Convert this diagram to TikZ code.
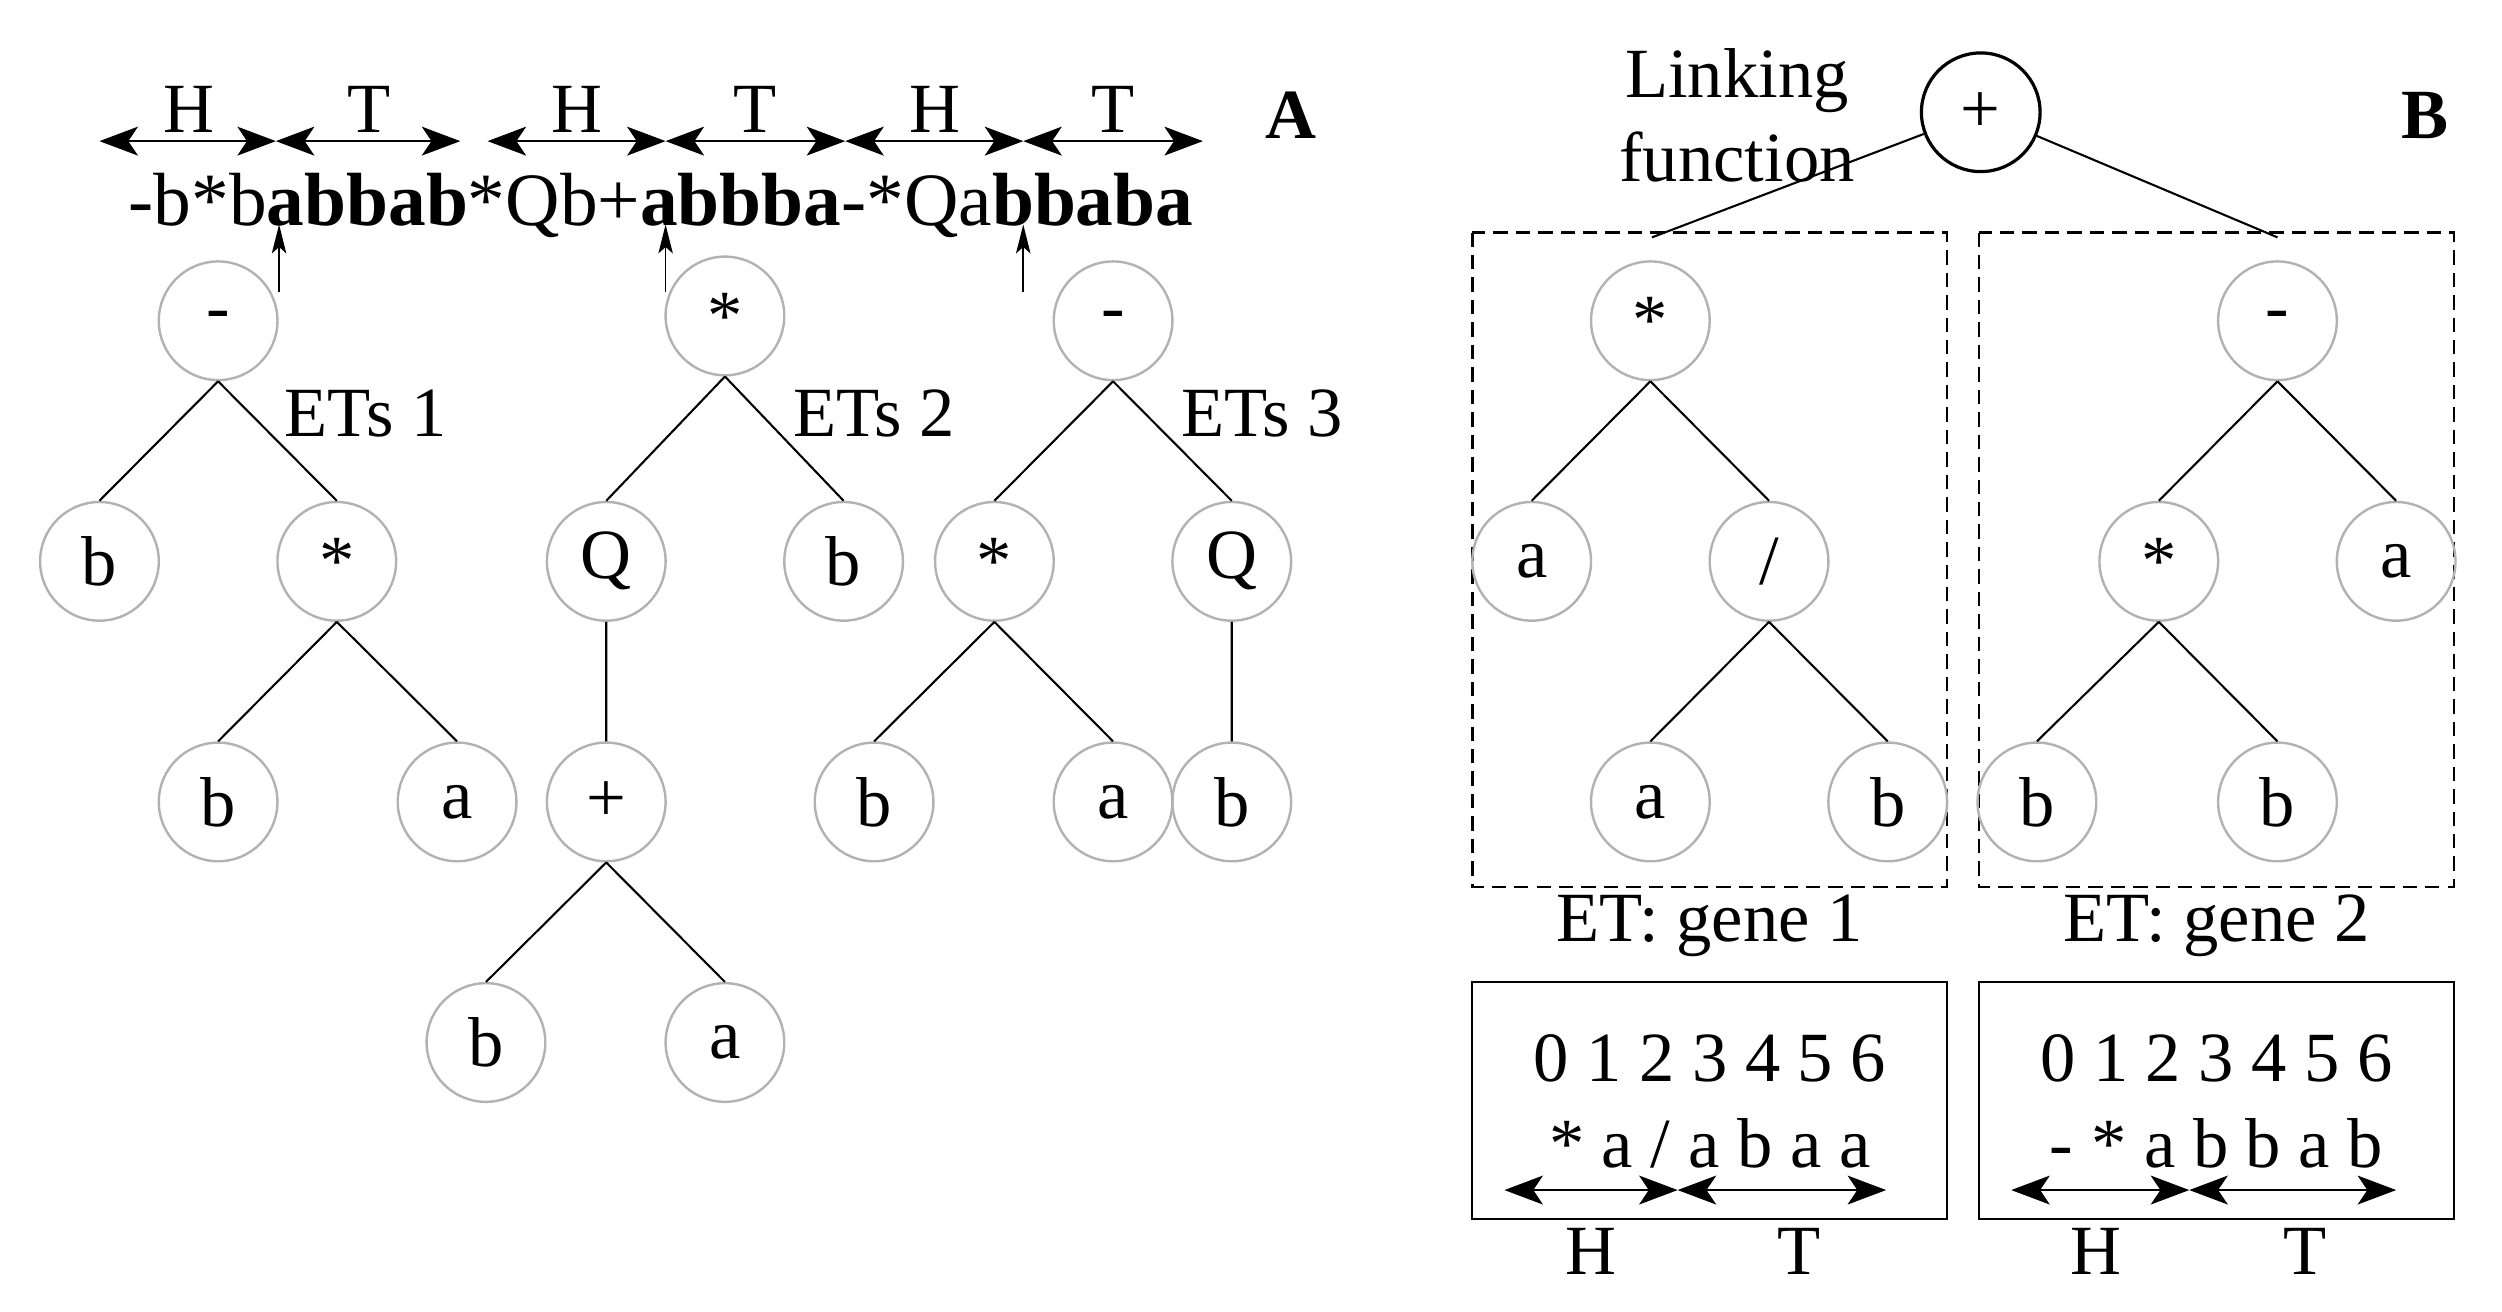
\documentclass[tikz,border=0pt]{standalone}
\usepackage{fontspec}
\setmainfont{Liberation Serif}
\usetikzlibrary{arrows.meta}
\begin{document}
\begin{tikzpicture}[x=1pt,y=-1pt,
 every node/.style={font=\fontsize{44}{50}\selectfont},
 nd/.style={circle,draw=gray!60,line width=1.5pt,minimum size=74pt,inner sep=0pt},
 ed/.style={line width=1.3pt},
 ht/.style={line width=1.3pt,{Stealth[length=24pt,width=18pt,inset=6pt]}-{Stealth[length=24pt,width=18pt,inset=6pt]}},
 up/.style={line width=1pt,-{Stealth[length=18pt,width=9pt,inset=4pt]}},
 dbox/.style={line width=1.5pt,dash pattern=on 9pt off 5pt},
 lbl/.style={inner sep=0pt}]
\useasboundingbox (0,0) rectangle (1560,818);
% Panel A header
\foreach \a/\b/\l/\m [count=\i] in {62/172/118/H,172/287/230/T,304/415/360/H,415/527/471/T,527/638/583/H,638/750/694/T}{
 \coordinate (s\i) at (\a,88); \coordinate (e\i) at (\b,88);
 \draw[ht] (s\i) -- (e\i);
 \node[lbl] (hl\i) at (\l,68) {\m};}
\node[lbl,font=\fontsize{44}{50}\bfseries] (A) at (805,72) {A};
\node[lbl,anchor=west,font=\fontsize{47}{50}\selectfont] (str) at (80,128) {-b*b\textbf{abbab}*Qb+\textbf{abbba}-*Qa\textbf{bbaba}};
% tree 1
\node[nd] (t1r) at (136,200) {-};
\node[nd] (t1b) at (62,350) {b};
\node[nd] (t1m) at (210,350) {*};
\node[nd] (t1bb) at (136,500) {b};
\node[nd] (t1a) at (285,500) {a};
\node[lbl] (et1) at (228,258) {ETs 1};
\draw[ed] (t1r.south)--(t1b.north) (t1r.south)--(t1m.north) (t1m.south)--(t1bb.north) (t1m.south)--(t1a.north);
% tree 2
\node[nd] (t2r) at (452,197) {*};
\node[nd] (t2q) at (378,350) {Q};
\node[nd] (t2b) at (526,350) {b};
\node[nd] (t2p) at (378,500) {+};
\node[nd] (t2bb) at (303,650) {b};
\node[nd] (t2a) at (452,650) {a};
\node[lbl] (et2) at (545,258) {ETs 2};
\draw[ed] (t2r.south)--(t2q.north) (t2r.south)--(t2b.north) (t2q)--(t2p) (t2p.south)--(t2bb.north) (t2p.south)--(t2a.north);
% tree 3
\node[nd] (t3r) at (694,200) {-};
\node[nd] (t3m) at (620,350) {*};
\node[nd] (t3q) at (768,350) {Q};
\node[nd] (t3b) at (545,500) {b};
\node[nd] (t3a) at (694,500) {a};
\node[nd] (t3bb) at (768,500) {b};
\node[lbl] (et3) at (787,258) {ETs 3};
\draw[ed] (t3r.south)--(t3m.north) (t3r.south)--(t3q.north) (t3m.south)--(t3b.north) (t3m.south)--(t3a.north) (t3q)--(t3bb);
% pointer arrows
\coordinate (p1) at (174,182); \coordinate (q1) at (174,140);
\coordinate (p2) at (415,182); \coordinate (q2) at (415,140);
\coordinate (p3) at (638,182); \coordinate (q3) at (638,140);
\draw[up] (p1)--(q1); \draw[up] (p2)--(q2); \draw[up] (p3)--(q3);
% Panel B
\node[lbl,align=center,font=\fontsize{44}{52}\selectfont] (lf) at (1083,72) {Linking\\function};
\node[circle,draw,line width=2pt,minimum size=74pt,inner sep=0pt] (plus) at (1235,70) {+};
\node[lbl,font=\fontsize{44}{50}\bfseries] (B) at (1512,72) {B};
\draw[dbox] (918,145) rectangle (1214,553);
\draw[dbox] (1234,145) rectangle (1530,553);
\coordinate (g1) at (1030,148); \coordinate (g2) at (1420,148);
\draw[ed] (plus)--(g1) (plus)--(g2);
\node[nd] (u1r) at (1029,200) {*};
\node[nd] (u1a) at (955,350) {a};
\node[nd] (u1d) at (1103,350) {/};
\node[nd] (u1aa) at (1029,500) {a};
\node[nd] (u1b) at (1177,500) {b};
\draw[ed] (u1r.south)--(u1a.north) (u1r.south)--(u1d.north) (u1d.south)--(u1aa.north) (u1d.south)--(u1b.north);
\node[nd] (u2r) at (1420,200) {-};
\node[nd] (u2m) at (1346,350) {*};
\node[nd] (u2a) at (1494,350) {a};
\node[nd] (u2b) at (1270,500) {b};
\node[nd] (u2bb) at (1420,500) {b};
\draw[ed] (u2r.south)--(u2m.north) (u2r.south)--(u2a.north) (u2m.south)--(u2b.north) (u2m.south)--(u2bb.north);
\node[lbl] (eg1) at (1066,577) {ET: gene 1};
\node[lbl] (eg2) at (1382,577) {ET: gene 2};
\draw[line width=1.2pt] (918,612) rectangle (1214,760);
\draw[line width=1.2pt] (1234,612) rectangle (1530,760);
\node[lbl] (d1) at (1066,660) {0 1 2 3 4 5 6};
\node[lbl] (c1) at (1066,713) {* a / a b a a};
\node[lbl] (d2) at (1382,660) {0 1 2 3 4 5 6};
\node[lbl] (c2) at (1382,713) {- * a b b a b};
\coordinate (k1) at (938,742); \coordinate (k2) at (1046,742); \coordinate (k3) at (1176,742);
\coordinate (m1) at (1254,742); \coordinate (m2) at (1365,742); \coordinate (m3) at (1494,742);
\draw[ht] (k1)--(k2); \draw[ht] (k2)--(k3);
\draw[ht] (m1)--(m2); \draw[ht] (m2)--(m3);
\node[lbl] (h1) at (992,780) {H}; \node[lbl] (tt1) at (1122,780) {T};
\node[lbl] (h2) at (1307,780) {H}; \node[lbl] (tt2) at (1437,780) {T};
\end{tikzpicture}
\end{document}
